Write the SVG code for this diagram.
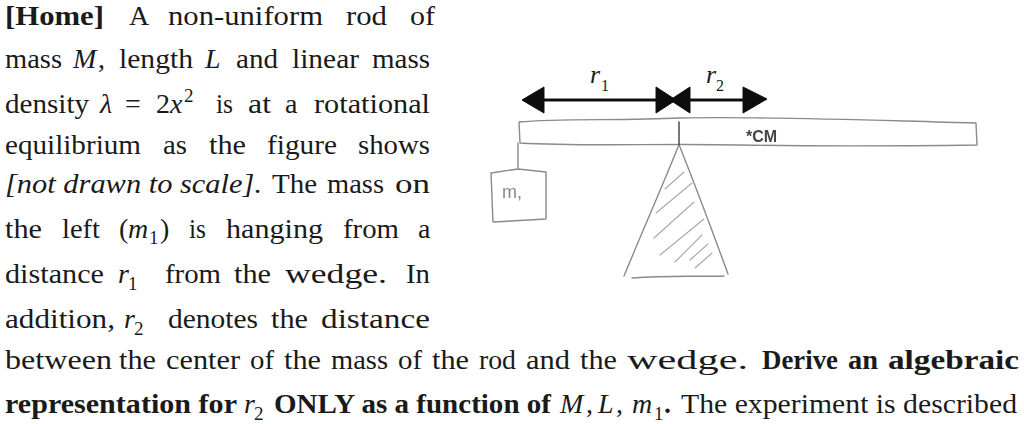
<svg xmlns="http://www.w3.org/2000/svg" width="1024" height="424" viewBox="0 0 1024 424">
<defs><filter id="b" x="-5%" y="-5%" width="110%" height="110%"><feGaussianBlur stdDeviation="0.45"/></filter></defs>
<style>
text{font-family:"Liberation Serif","DejaVu Serif",serif;font-size:28px;fill:#1a1a1a}
.b{font-weight:bold}.i{font-style:italic}
.sub{font-size:19px}
.s{fill:none;stroke:#8a8a8a;stroke-width:1.4;stroke-linecap:round;stroke-linejoin:round}
.d{fill:none;stroke:#555;stroke-width:1.6;stroke-linecap:round}
.h{fill:none;stroke:#a8a8a8;stroke-width:1.1;stroke-linecap:round}
.a{fill:#111;stroke:#111;stroke-width:1;stroke-linejoin:round}
.l{fill:none;stroke:#111;stroke-width:3}
.m{font-size:26px}
.ms{font-size:16px}
</style>
<rect width="1024" height="424" fill="#fff"/>
<g id="paragraph">
<text x="5" y="25" class="b" textLength="99" lengthAdjust="spacingAndGlyphs">[Home]</text><text x="129" y="25">A</text><text x="168" y="25" textLength="155" lengthAdjust="spacingAndGlyphs">non-uniform</text><text x="346" y="25" textLength="41" lengthAdjust="spacingAndGlyphs">rod</text><text x="410" y="25" textLength="25" lengthAdjust="spacingAndGlyphs">of</text>
<text x="5" y="68" textLength="57" lengthAdjust="spacingAndGlyphs">mass</text><text x="73" y="68" class="i">M</text><text x="98" y="68">,</text><text x="119" y="68" textLength="74" lengthAdjust="spacingAndGlyphs">length</text><text x="205" y="68" class="i">L</text><text x="236" y="68" textLength="42" lengthAdjust="spacingAndGlyphs">and</text><text x="292" y="68" textLength="67" lengthAdjust="spacingAndGlyphs">linear</text><text x="372" y="68" textLength="58" lengthAdjust="spacingAndGlyphs">mass</text>
<text x="5" y="113" textLength="84" lengthAdjust="spacingAndGlyphs">density</text><text x="100" y="113" class="i">λ</text><text x="125" y="113">=</text><text x="156" y="113">2</text><text x="170" y="113" class="i">x</text><text x="184" y="102" class="sub">2</text><text x="216" y="113" textLength="17" lengthAdjust="spacingAndGlyphs">is</text><text x="248" y="113" textLength="23" lengthAdjust="spacingAndGlyphs">at</text><text x="285" y="113">a</text><text x="314" y="113" textLength="116" lengthAdjust="spacingAndGlyphs">rotational</text>
<text x="5" y="154" textLength="136" lengthAdjust="spacingAndGlyphs">equilibrium</text><text x="163" y="154" textLength="24" lengthAdjust="spacingAndGlyphs">as</text><text x="209" y="154" textLength="37" lengthAdjust="spacingAndGlyphs">the</text><text x="267" y="154" textLength="70" lengthAdjust="spacingAndGlyphs">figure</text><text x="358" y="154" textLength="72" lengthAdjust="spacingAndGlyphs">shows</text>
<text x="5" y="193" class="i" textLength="257" lengthAdjust="spacingAndGlyphs">[not drawn to scale].</text><text x="272" y="193" textLength="45" lengthAdjust="spacingAndGlyphs">The</text><text x="327" y="193" textLength="57" lengthAdjust="spacingAndGlyphs">mass</text><text x="395" y="193" textLength="35" lengthAdjust="spacingAndGlyphs">on</text>
<text x="5" y="238" textLength="37" lengthAdjust="spacingAndGlyphs">the</text><text x="62" y="238" textLength="38" lengthAdjust="spacingAndGlyphs">left</text><text x="119" y="238">(</text><text x="128" y="238" class="i">m</text><text x="149" y="244" class="sub">1</text><text x="160" y="238">)</text><text x="189" y="238" textLength="17" lengthAdjust="spacingAndGlyphs">is</text><text x="226" y="238" textLength="97" lengthAdjust="spacingAndGlyphs">hanging</text><text x="343" y="238" textLength="56" lengthAdjust="spacingAndGlyphs">from</text><text x="418" y="238">a</text>
<text x="5" y="283" textLength="99" lengthAdjust="spacingAndGlyphs">distance</text><text x="118" y="283" class="i">r</text><text x="128" y="290" class="sub">1</text><text x="165" y="283" textLength="56" lengthAdjust="spacingAndGlyphs">from</text><text x="234" y="283" textLength="37" lengthAdjust="spacingAndGlyphs">the</text><text x="285" y="283" textLength="102" lengthAdjust="spacingAndGlyphs">wedge.</text><text x="406" y="283" textLength="24" lengthAdjust="spacingAndGlyphs">In</text>
<text x="5" y="328" textLength="110" lengthAdjust="spacingAndGlyphs">addition,</text><text x="124" y="328" class="i">r</text><text x="134" y="335" class="sub">2</text><text x="168" y="328" textLength="90" lengthAdjust="spacingAndGlyphs">denotes</text><text x="271" y="328" textLength="37" lengthAdjust="spacingAndGlyphs">the</text><text x="321" y="328" textLength="109" lengthAdjust="spacingAndGlyphs">distance</text>
<text x="5" y="369" textLength="107" lengthAdjust="spacingAndGlyphs">between</text><text x="119" y="369" textLength="37" lengthAdjust="spacingAndGlyphs">the</text><text x="166" y="369" textLength="74" lengthAdjust="spacingAndGlyphs">center</text><text x="250" y="369" textLength="24" lengthAdjust="spacingAndGlyphs">of</text><text x="284" y="369" textLength="37" lengthAdjust="spacingAndGlyphs">the</text><text x="331" y="369" textLength="57" lengthAdjust="spacingAndGlyphs">mass</text><text x="398" y="369" textLength="24" lengthAdjust="spacingAndGlyphs">of</text><text x="432" y="369" textLength="37" lengthAdjust="spacingAndGlyphs">the</text><text x="479" y="369" textLength="37" lengthAdjust="spacingAndGlyphs">rod</text><text x="526" y="369" textLength="44" lengthAdjust="spacingAndGlyphs">and</text><text x="580" y="369" textLength="37" lengthAdjust="spacingAndGlyphs">the</text><text x="627" y="369" textLength="121" lengthAdjust="spacingAndGlyphs">wedge.</text><text x="762" y="369" class="b" textLength="76" lengthAdjust="spacingAndGlyphs">Derive</text><text x="848" y="369" class="b" textLength="30" lengthAdjust="spacingAndGlyphs">an</text><text x="888" y="369" class="b" textLength="131" lengthAdjust="spacingAndGlyphs">algebraic</text>
<text x="5" y="413" class="b" textLength="232" lengthAdjust="spacingAndGlyphs">representation for</text><text x="244" y="413" class="i">r</text><text x="254" y="420" class="sub">2</text><text x="274" y="413" class="b" textLength="277" lengthAdjust="spacingAndGlyphs">ONLY as a function of</text><text x="560" y="413" class="i">M</text><text x="586" y="413">,</text><text x="598" y="413" class="i">L</text><text x="616" y="413">,</text><text x="632" y="413" class="i">m</text><text x="654" y="420" class="sub">1</text><text x="664" y="413" class="b">.</text><text x="681" y="413" textLength="336" lengthAdjust="spacingAndGlyphs">The experiment is described</text>
</g>
<g id="rod" filter="url(#b)">
<path class="s" d="M519 122 C560 118 620 121 680 118 C760 116 860 120 976 123 L977 145 C900 146 800 146 740 145 C660 143 590 147 520 143 Z"/>
<path class="d" d="M679 122 L679 146"/>
</g>
<g id="mass-m1" filter="url(#b)">
<path class="s" d="M518 143 L518 168"/>
<path class="s" d="M491 173 L518 169 L546 172 L546 219 L493 222 Z"/>
<text x="502" y="198" style="font-size:18px;fill:#888;font-family:'Liberation Sans',sans-serif">m,</text>
</g>
<g id="wedge" filter="url(#b)">
<path class="s" d="M678 147 C665 180 645 225 624 276"/>
<path class="s" d="M680 147 C695 185 712 230 728 274"/>
<path class="s" d="M632 278 C670 275 700 277 724 276"/>
<path class="h" d="M665 189 L684 172M656 213 L692 183M654 238 L694 202M660 255 L704 219M675 262 L702 235M690 260 L708 244M695 268 L712 253"/>
</g>
<g id="cm" filter="url(#b)">
<text x="746" y="142" style="font-size:16px;fill:#444;font-family:'Liberation Sans',sans-serif;font-weight:bold">*CM</text>
</g>
<g id="connectors" filter="url(#b)">
<path class="l" d="M530 100 L755 100"/>
<path class="a" d="M522 100 L544 87 L544 113 Z"/>
<path class="a" d="M676 100 L656 87 L656 113 Z"/>
<path class="a" d="M670 100 L690 87 L690 113 Z"/>
<path class="a" d="M767 99 L743 87 L743 113 Z"/>
</g>
<g id="labels">
<text x="590" y="83" class="i m">r</text><text x="601" y="91" class="ms">1</text>
<text x="706" y="83" class="i m">r</text><text x="716" y="91" class="ms">2</text>
</g>
</svg>
